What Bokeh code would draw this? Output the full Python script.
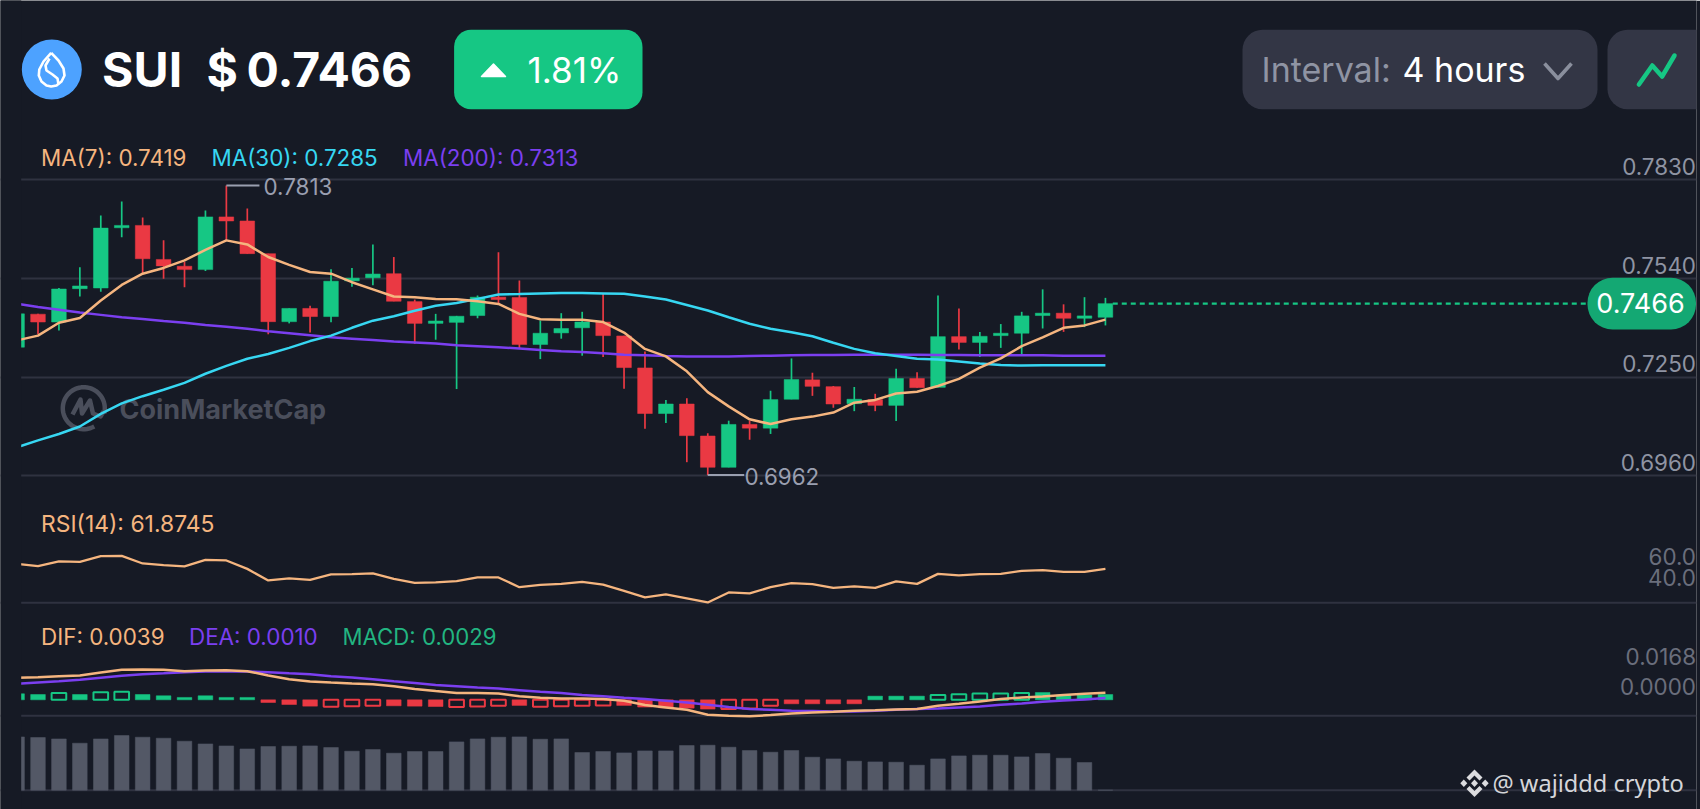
from bokeh.plotting import figure
from bokeh.models import Range1d, ColumnDataSource, FixedTicker, Span, BoxAnnotation
from bokeh.core.properties import value
from bokeh.embed import file_html
from bokeh.resources import INLINE
import numpy as np

BG = "#161a25"
GRID = "#2f3240"
GREEN = "#16c784"
RED = "#ea3943"
ORANGE = "#f5b57f"
CYAN = "#37d7f2"
PURPLE = "#7b3ff0"

opens = [.7338,.7435,.7412,.7510,.7512,.7689,.7696,.7596,.7576,.7566,.7721,.7709,.7613,.7413,.7452,.7428,.7533,.7542,.7554,.7472,.7408,.7411,.7431,.7485,.7484,.7346,.7380,.7395,.7412,.7371,.7277,.7143,.7171,.7077,.6985,.7111,.7100,.7185,.7242,.7222,.7172,.7184,.7167,.7246,.7220,.7369,.7352,.7372,.7379,.7431,.7438,.7423,.7426]
highs = [.7436,.7436,.7512,.7573,.7725,.7766,.7719,.7652,.7589,.7740,.7813,.7746,.7613,.7452,.7460,.7567,.7571,.7640,.7603,.7478,.7436,.7430,.7490,.7617,.7534,.7416,.7438,.7442,.7495,.7372,.7325,.7183,.7188,.7085,.7122,.7122,.7210,.7305,.7263,.7224,.7221,.7201,.7275,.7264,.7490,.7452,.7383,.7406,.7442,.7508,.7464,.7485,.7483]
lows = [.7338,.7377,.7387,.7487,.7501,.7661,.7555,.7539,.7514,.7562,.7652,.7613,.7376,.7408,.7381,.7411,.7516,.7520,.7473,.7348,.7360,.7215,.7423,.7465,.7333,.7303,.7363,.7313,.7309,.7216,.7098,.7115,.7000,.6962,.6985,.7066,.7083,.7185,.7195,.7160,.7150,.7150,.7121,.7219,.7220,.7331,.7309,.7336,.7318,.7393,.7383,.7397,.7402]
closes = [.7436,.7412,.7509,.7518,.7688,.7696,.7598,.7577,.7566,.7721,.7709,.7613,.7413,.7452,.7428,.7532,.7541,.7553,.7473,.7408,.7415,.7429,.7485,.7478,.7346,.7379,.7393,.7412,.7372,.7278,.7143,.7171,.7078,.6985,.7111,.7100,.7184,.7243,.7223,.7171,.7185,.7167,.7246,.7219,.7369,.7352,.7370,.7379,.7430,.7438,.7423,.7430,.7466]

ma7 = [.7358,.7372,.7410,.7424,.7475,.7521,.7554,.7571,.7593,.7624,.7652,.7640,.7603,.7580,.7559,.7554,.7529,.7508,.7487,.7485,.7480,.7479,.7473,.7465,.7436,.7420,.7419,.7419,.7412,.7381,.7333,.7311,.7267,.7206,.7164,.7126,.7112,.7126,.7134,.7146,.7175,.7183,.7202,.7207,.7224,.7245,.7278,.7305,.7341,.7367,.7395,.7402,.7419]
ma30 = [.7044,.7064,.7083,.7105,.7142,.7173,.7194,.7213,.7233,.7260,.7283,.7304,.7318,.7336,.7356,.7372,.7395,.7416,.7429,.7445,.7460,.7468,.7480,.7493,.7494,.7496,.7497,.7497,.7496,.7495,.7487,.7478,.7462,.7446,.7426,.7407,.7392,.7382,.7370,.7351,.7333,.7320,.7312,.7304,.7302,.7296,.7290,.7286,.7284,.7285,.7285,.7285,.7285]
ma200 = [.7466,.7456,.7448,.7440,.7433,.7426,.7421,.7415,.7410,.7403,.7398,.7392,.7385,.7379,.7373,.7367,.7363,.7359,.7355,.7352,.7349,.7344,.7341,.7338,.7334,.7330,.7326,.7324,.7320,.7316,.7314,.7312,.7311,.7311,.7311,.7312,.7313,.7314,.7315,.7315,.7316,.7316,.7316,.7316,.7315,.7315,.7314,.7314,.7314,.7314,.7313,.7313,.7313]

rsi14 = [66.8,64.5,69.2,68.8,74.5,74.8,67.2,65.5,64.2,70.8,70.2,61.8,50.2,52.2,50.8,56.2,56.5,57.2,51.8,47.8,48.2,49.5,53.2,53.2,43.5,45.8,46.8,48.8,46.0,39.8,33.2,36.2,32.2,28.2,38.2,37.2,43.5,47.5,46.5,42.8,44.2,42.8,49.2,46.8,56.8,55.2,56.5,56.8,59.8,60.5,58.8,58.8,61.87]

dif = [.0121,.0124,.0130,.0134,.0150,.0165,.0167,.0165,.0157,.0161,.0163,.0157,.0134,.0113,.0101,.0095,.0090,.0086,.0075,.0060,.0048,.0038,.0037,.0035,.0020,.0011,.0007,.0007,.0004,-.0005,-.0029,-.0042,-.0055,-.0082,-.0088,-.0090,-.0084,-.0075,-.0070,-.0066,-.0060,-.0057,-.0053,-.0051,-.0033,-.0022,-.0009,.0004,.0013,.0018,.0026,.0033,.0039]
dea = [.0088,.0095,.0102,.0110,.0121,.0132,.0141,.0146,.0152,.0156,.0157,.0156,.0152,.0146,.0141,.0130,.0123,.0113,.0102,.0092,.0082,.0075,.0068,.0062,.0053,.0044,.0037,.0027,.0020,.0011,.0004,-.0005,-.0015,-.0027,-.0040,-.0051,-.0055,-.0060,-.0062,-.0064,-.0064,-.0060,-.0055,-.0051,-.0048,-.0042,-.0037,-.0027,-.0020,-.0011,-.0004,.0002,.0010]
macd = [.0033,.0029,.0037,.0029,.0042,.0044,.0029,.0022,.0013,.0022,.0013,.0013,-.0015,-.0026,-.0035,-.0038,-.0035,-.0033,-.0033,-.0035,-.0037,-.0040,-.0037,-.0033,-.0031,-.0038,-.0035,-.0033,-.0031,-.0031,-.0040,-.0044,-.0046,-.0051,-.0051,-.0048,-.0033,-.0022,-.0022,-.0022,-.0022,.0020,.0020,.0020,.0026,.0031,.0035,.0035,.0038,.0040,.0026,.0026,.0029]
macd_hollow = [0,0,1,0,1,1,0,0,0,0,0,0,0,0,0,1,1,1,0,0,0,1,1,1,0,1,1,1,1,0,0,0,0,0,1,1,1,0,0,0,0,0,0,0,1,1,1,1,1,0,0,0,0]
volume = [53.3,52.7,51.3,47,51.3,54.7,53,52,49,46.3,44.3,41.3,43.7,44,44.3,42.7,39,40.7,37,38.7,38.7,48.3,51.3,53,53.3,51,51.3,37.7,38.7,37.3,39.3,39.3,44.7,45,43,39.7,38,39.7,33,31.3,29,28.3,28,25,31.3,34.3,35,35,33.3,36.7,32,27.7,0]

price_ticks = [0.7830, 0.7540, 0.7250, 0.6960]
rsi_tick_labels = ["60.0", "40.0"]
macd_tick_labels = ["0.0168", "0.0000"]
last_price = 0.7466
high_price, high_index = 0.7813, 10
low_price, low_index = 0.6962, 33

n = len(closes)
idx = list(range(n))
up = [c >= o for o, c in zip(opens, closes)]
src = ColumnDataSource(dict(
    i=idx, o=opens, h=highs, l=lows, c=closes,
    top=[max(a, b) for a, b in zip(opens, closes)],
    bot=[min(a, b) for a, b in zip(opens, closes)],
    col=[GREEN if u else RED for u in up],
    ma7=ma7, ma30=ma30, ma200=ma200, rsi=rsi14, dif=dif, dea=dea,
    vol=volume))
h_solid = [i for i in idx if not macd_hollow[i]]
h_hollow = [i for i in idx if macd_hollow[i]]

p = figure(width=1700, height=809, output_backend="svg", toolbar_location=None,
           x_range=Range1d(-0.7917, 80.24), y_range=Range1d(0.59792, 0.83570),
           min_border_left=0, min_border_right=4, min_border_top=0, min_border_bottom=0,
           background_fill_color=BG, border_fill_color=BG, outline_line_color=None)
p.extra_x_ranges = {"page": Range1d(0, 1696)}
p.extra_y_ranges = {"page": Range1d(809, 0), "rsi": Range1d(-178.83, 630.17),
                    "macd": Range1d(-0.060335, 0.384615), "vol": Range1d(-19.3, 789.7)}
p.xaxis.visible = False
p.yaxis.visible = False
p.xgrid.visible = False
p.ygrid.ticker = FixedTicker(ticks=price_ticks)
p.ygrid.grid_line_color = GRID
p.ygrid.grid_line_width = 2

PG = dict(x_range_name="page", y_range_name="page")

# the chart area starts 21px in from the left edge: hide what lies left of it
p.add_layout(BoxAnnotation(left=-10, right=20.7, top=-10, bottom=820, fill_color=BG, fill_alpha=1,
                           line_color=None, level="guide", **PG))

def sep(name, loc):
    p.add_layout(Span(location=loc, dimension="width", y_range_name=name, line_color=GRID,
                      line_width=2, level="underlay"))
sep("rsi", 27.87)
sep("macd", -0.00880)
sep("vol", 0)

def put(txt, x, y, color, size, align="left", style="normal", font="Inter"):
    p.text([x], [y], text=[txt], text_color=color, text_font=value(font),
           text_font_size=f"{size}px", text_font_style=style, text_align=align,
           text_baseline="middle", **PG)

def box(l, r, t, b, color, radius):
    p.add_layout(BoxAnnotation(left=l, right=r, top=t, bottom=b, fill_color=color, fill_alpha=1,
                               line_color=None, border_radius=radius, level="underlay", **PG))

# watermark (below the marks)
a = np.radians(np.linspace(60, 375, 60))
p.line(83.3 + 21 * np.cos(a), 407.7 + 21 * np.sin(a), line_color="#4a4e5b", line_width=4.5, **PG)
p.line([72, 80, 81.5, 89.5, 92.5, 100, 103], [414, 399, 413, 400, 413, 416, 411],
       line_color="#4a4e5b", line_width=4.5, line_join="round", **PG)
put("CoinMarketCap", 119, 409, "#4a4e5b", 27, style="bold")

# candles
p.segment("i", "h", "i", "l", source=src, line_color="col", line_width=1.7)
p.vbar(x="i", top="top", bottom="bot", width=0.70, source=src, fill_color="col", line_color="col", line_width=0.5)

# moving averages
p.line("i", "ma200", source=src, line_color=PURPLE, line_width=2.5)
p.line("i", "ma30", source=src, line_color=CYAN, line_width=2.5)
p.line("i", "ma7", source=src, line_color=ORANGE, line_width=2.5)

# last price
p.line([52.35, 75.03], [last_price, last_price], line_color=GREEN, line_width=2.4, line_dash="5 4")

# high / low callouts
p.line([high_index, 11.58], [high_price, high_price], line_color="#9a9fb0", line_width=2)
p.line([low_index, 34.74], [low_price, low_price], line_color="#9a9fb0", line_width=2)
put(f"{high_price:.4f}", 263, 185.5, "#9a9fb0", 22.4)
put(f"{low_price:.4f}", 744, 475.5, "#9a9fb0", 22.4)

# RSI
p.line("i", "rsi", source=src, line_color=ORANGE, line_width=2.3, y_range_name="rsi")

# MACD
for idxs, hollow in ((h_solid, False), (h_hollow, True)):
    p.vbar(x=idxs, top=[macd[i] for i in idxs], bottom=0, width=0.70, y_range_name="macd",
           fill_color=[GREEN if macd[i] > 0 else RED for i in idxs] if not hollow else None,
           line_color=[GREEN if macd[i] > 0 else RED for i in idxs], line_width=2 if hollow else 0.5)
p.line("i", "dea", source=src, line_color=PURPLE, line_width=2.5, y_range_name="macd")
p.line("i", "dif", source=src, line_color=ORANGE, line_width=2.5, y_range_name="macd")

# volume
p.vbar(x="i", top="vol", bottom=0, width=0.70, source=src, fill_color="#535866", line_color="#535866",
       line_width=0.5, y_range_name="vol")

# legends
put("MA(7): 0.7419", 40.5, 156.7, ORANGE, 22.4)
put("MA(30): 0.7285", 211, 156.7, CYAN, 22.4)
put("MA(200): 0.7313", 402.5, 156.7, PURPLE, 22.4)
put("RSI(14): 61.8745", 40.5, 523.3, ORANGE, 22.9)
put("DIF: 0.0039", 40.5, 635.7, ORANGE, 22.4)
put("DEA: 0.0010", 188.5, 635.7, PURPLE, 22.4)
put("MACD: 0.0029", 342, 635.7, "#22b581", 22.2)

# right-hand tick labels
for tick, y in zip(price_ticks, [165.7, 264.7, 363.3, 462]):
    put(f"{tick:.4f}", 1695.5, y, "#8f94a3", 22.4, align="right")
for t, y in zip(rsi_tick_labels, [555.7, 577.3]):
    put(t, 1695.5, y, "#6a6e7c", 22.4, align="right")
for t, y in zip(macd_tick_labels, [655.7, 686.3]):
    put(t, 1695.5, y, "#6a6e7c", 22.4, align="right")

# last price badge
box(1587, 1695.5, 277.3, 329, "#14a873", 25)
put(f"{last_price:.4f}", 1640, 302, "#ffffff", 27, align="center")

# header
p.scatter([51.3], [69], size=60, marker="circle", fill_color="#4da2ff", line_color=None, **PG)
p.line([50.7, 43, 38.8, 38.3, 41, 46, 50.7, 56, 61, 64, 63, 58, 50.7],
       [52.3, 61, 69, 75, 81, 85, 86, 85, 81, 75, 68, 60, 52.3],
       line_color="#ffffff", line_width=2.6, line_join="round", **PG)
p.line([49, 45, 46, 52, 57, 58], [58, 65, 70, 74, 78, 84], line_color="#ffffff", line_width=2.6, **PG)
put("SUI", 101.6, 69, "#ffffff", 48, style="bold")
put("$", 206, 69, "#ffffff", 48, style="bold")
put("0.7466", 246, 69, "#ffffff", 48, style="bold")

box(453.6, 642, 29.3, 108.7, GREEN, 17)
p.patch([493, 505, 481], [63.5, 76, 76], fill_color="#ffffff", line_color="#ffffff", line_width=1.5,
        line_join="round", **PG)
put("1.81%", 527, 69, "#ffffff", 35)

box(1242, 1597, 29.3, 108.7, "#333645", 20)
put("Interval:", 1261, 69, "#8f94a3", 34)
put("4 hours", 1402, 69, "#ffffff", 34)
p.line([1544, 1557.5, 1571], [63, 78, 63], line_color="#8a8f9d", line_width=3.6, line_join="round", **PG)
box(1607, 1730, 29.3, 108.7, "#333645", 20)
p.line([1638.4, 1651.8, 1661.6, 1674], [84, 65, 76, 55], line_color=GREEN, line_width=4.5,
       line_join="round", line_cap="round", **PG)

# bottom-right signature
xs = [[1474, 1477.5, 1474, 1470.5], [1463.3, 1466.8, 1463.3, 1459.8], [1484.7, 1488.2, 1484.7, 1481.2],
      [1474, 1482, 1479, 1474, 1469, 1466], [1474, 1482, 1479, 1474, 1469, 1466]]
ys = [[779, 782.7, 786.4, 782.7], [779, 782.7, 786.4, 782.7], [779, 782.7, 786.4, 782.7],
      [769, 777, 780, 775, 780, 777], [796.4, 788.4, 785.4, 790.4, 785.4, 788.4]]
p.patches(xs, ys, fill_color="#dcdcdf", line_color=None, **PG)
put("@ wajiddd crypto", 1492, 782.5, "#d4d5d9", 23.6, font="Noto Sans")

open("out.html", "w").write(file_html(p, INLINE))
